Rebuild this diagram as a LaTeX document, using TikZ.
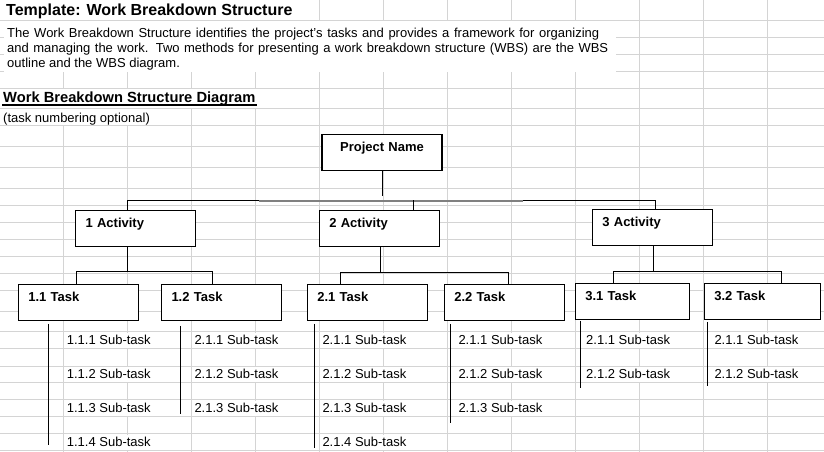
\documentclass[tikz,border=0pt]{standalone}
\usepackage{fontspec}
\setmainfont{Liberation Sans}
\definecolor{gridgray}{RGB}{212,212,212}
\tikzset{
  wbsbox/.style={draw, line width=1.1pt, fill=white, inner xsep=10pt, inner ysep=0pt,
    text width=#1, text height=17pt, text depth=19pt, align=left,
    font=\fontsize{13}{15}\selectfont\bfseries},
  wbsbox/.default=100pt,
  cell/.style={anchor=base west, fill=white, inner xsep=1pt, inner ysep=0pt},
  sub/.style={cell, text height=12pt, text depth=3pt},
  link/.style={line width=0.9pt},
}

\begin{document}
\begin{tikzpicture}[x=1pt, y=-1pt, font=\fontsize{13}{15}\selectfont]
\useasboundingbox (0,0) rectangle (824,452);
\fill[white] (0,0) rectangle (824,452);
% sheet grid
\foreach \x in {63,127,...,767}
  \draw[gridgray, line width=0.75pt] (\x,0) -- (\x,452);
\foreach \y in {20.7,37.3,54,71,88.3,108.3,125,146.7,167.7,188.3,205,222.3,239,256,
  273.3,290,311,331.7,348.3,366,382.3,399.3,416.7,433.3,450}
  \draw[gridgray, line width=0.75pt] (0,\y) -- (824,\y);
\fill[white] (4,21.2) rectangle (616,71.6);
% heading texts
\node[cell, text height=15.5pt, text depth=4.5pt, font=\fontsize{16}{18}\selectfont\bfseries] (title) at (5,15.7) {Template: Work Breakdown Structure};
\node[anchor=base west, inner sep=0pt] (intro1) at (7,37.3) {\makebox[592pt][s]{The Work Breakdown Structure identifies the project's tasks and provides a framework for organizing}};
\node[anchor=base west, inner sep=0pt] (intro2) at (7,52.3) {\makebox[601pt][s]{and managing the work. Two methods for presenting a work breakdown structure (WBS) are the WBS}};
\node[anchor=base west, inner sep=0pt] (intro3) at (7,67.3) {outline and the WBS diagram.};
\node[cell, text height=14pt, text depth=5pt, font=\fontsize{14.7}{17}\selectfont\bfseries] (diag) at (2,102.7) {Work Breakdown Structure Diagram};
\draw[line width=1.5pt] ([yshift=-2.5pt]diag.base west) -- ([yshift=-2.5pt]diag.base east);
\node[cell, text height=13.3pt, text depth=2.5pt] (note) at (2,122) {(task numbering optional)};
% boxes
\node[wbsbox, align=center] (pn) at (382,152.2) {Project Name};
\node[wbsbox] (a1) at (135.5,228.2) {1 Activity};
\node[wbsbox] (a2) at (379.3,228.2) {2 Activity};
\node[wbsbox] (a3) at (652.3,227.3) {3 Activity};
\node[wbsbox] (t11) at (78.3,302.3) {1.1 Task};
\node[wbsbox] (t12) at (221.5,302.3) {1.2 Task};
\node[wbsbox] (t21) at (367.3,302.3) {2.1 Task};
\node[wbsbox] (t22) at (504.3,302.3) {2.2 Task};
\node[wbsbox=94pt] (t31) at (632.3,301.3) {3.1 Task};
\node[wbsbox=96pt] (t32) at (762.3,301.3) {3.2 Task};
% sub-tasks
\node[sub] (s111) at (65.7,344.6) {1.1.1 Sub-task};
\node[sub] (s112) at (65.7,378.9) {1.1.2 Sub-task};
\node[sub] (s113) at (65.7,412.6) {1.1.3 Sub-task};
\node[sub] (s114) at (65.7,446.6) {1.1.4 Sub-task};
\node[sub] (s121) at (193.3,344.6) {2.1.1 Sub-task};
\node[sub] (s122) at (193.3,378.9) {2.1.2 Sub-task};
\node[sub] (s123) at (193.3,412.6) {2.1.3 Sub-task};
\node[sub] (s211) at (321.3,344.6) {2.1.1 Sub-task};
\node[sub] (s212) at (321.3,378.9) {2.1.2 Sub-task};
\node[sub] (s213) at (321.3,412.6) {2.1.3 Sub-task};
\node[sub] (s214) at (321.3,446.6) {2.1.4 Sub-task};
\node[sub] (s221) at (457.3,344.6) {2.1.1 Sub-task};
\node[sub] (s222) at (457.3,378.9) {2.1.2 Sub-task};
\node[sub] (s223) at (457.3,412.6) {2.1.3 Sub-task};
\node[sub] (s311) at (585,344.6) {2.1.1 Sub-task};
\node[sub] (s312) at (585,378.9) {2.1.2 Sub-task};
\node[sub] (s321) at (713.3,344.6) {2.1.1 Sub-task};
\node[sub] (s322) at (713.3,378.9) {2.1.2 Sub-task};
% top level
\coordinate (pnend) at (382.3,196);
\coordinate (bar1) at (127.3,200.3);
\coordinate (bar2) at (413.3,200.3);
\coordinate (bar3) at (655,200.3);
\coordinate (shade1) at (259,200.8);
\coordinate (shade2) at (523,200.8);
\draw[link] (pn.south -| pnend) -- (pnend);
\draw[link] (bar1) -- (bar3);
\draw[gray, line width=1.4pt] (shade1) -- (shade2);
\draw[link] (bar1) -- (bar1 |- a1.north);
\draw[link] (bar2) -- (bar2 |- a2.north);
\draw[link] (bar3) -- (bar3 |- a3.north);
% activity forks
\coordinate (f1) at (127.3,271.7);
\coordinate (f1l) at (76.3,271.7);
\coordinate (f1r) at (212.3,271.7);
\coordinate (f2) at (380.7,272);
\coordinate (f2l) at (340.3,272);
\coordinate (f2r) at (508.3,272);
\coordinate (f3) at (653.3,271);
\coordinate (f3l) at (613.3,271);
\coordinate (f3r) at (781.7,271);
\draw[link] (a1.south -| f1) -- (f1);
\draw[link] (f1l |- t11.north) -- (f1l) -- (f1r) -- (f1r |- t12.north);
\draw[link] (a2.south -| f2) -- (f2);
\draw[link] (f2l |- t21.north) -- (f2l) -- (f2r) -- (f2r |- t22.north);
\draw[link] (a3.south -| f3) -- (f3);
\draw[link] (f3l |- t31.north) -- (f3l) -- (f3r) -- (f3r |- t32.north);
% sub-task rails
\coordinate (r11) at (48.3,445);
\coordinate (r12) at (180.3,414);
\coordinate (r21) at (314.3,448.3);
\coordinate (r22) at (450.3,422.7);
\coordinate (r31) at (580.3,388.3);
\coordinate (r32) at (707,386);
\draw[link] ([yshift=-3pt]t11.south -| r11) -- (r11);
\draw[link] ([yshift=-5pt]t12.south -| r12) -- (r12);
\draw[link] ([yshift=-3pt]t21.south -| r21) -- (r21);
\draw[link] ([yshift=-3pt]t22.south -| r22) -- (r22);
\draw[link] ([yshift=-1pt]t31.south -| r31) -- (r31);
\draw[link] ([yshift=-2pt]t32.south -| r32) -- (r32);
\end{tikzpicture}
\end{document}
